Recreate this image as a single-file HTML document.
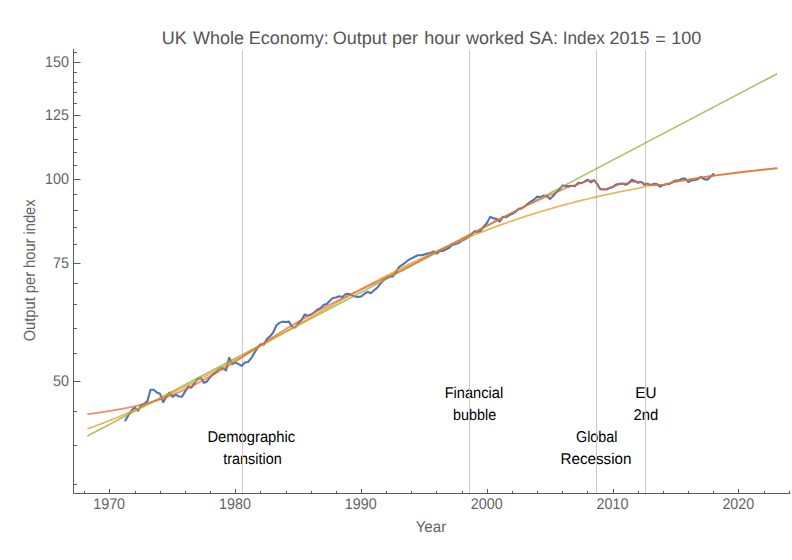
<!DOCTYPE html><html><head><meta charset="utf-8"><style>html,body{margin:0;padding:0;background:#fff;width:792px;height:560px;overflow:hidden}svg{display:block}svg text{font-family:"Liberation Sans",sans-serif}</style></head><body><svg width="792" height="560" viewBox="0 0 792 560" text-rendering="geometricPrecision">
<rect width="792" height="560" fill="#fff"/>
<text transform="translate(207.48,442) scale(0.9822,1.0400)"  font-size="15" fill="#000" >Demographic</text>
<text transform="translate(223.18,464) scale(0.9621,1.0400)"  font-size="15" fill="#000" >transition</text>
<text transform="translate(444.69,398) scale(0.9743,1.0400)"  font-size="15" fill="#000" >Financial</text>
<text transform="translate(453.07,420) scale(0.9580,1.0400)"  font-size="15" fill="#000" >bubble</text>
<text transform="translate(575.98,442) scale(0.9570,1.0400)"  font-size="15" fill="#000" >Global</text>
<text transform="translate(560.44,464) scale(1.0147,1.0400)"  font-size="15" fill="#000" >Recession</text>
<text transform="translate(635.34,398) scale(1.0190,1.0400)"  font-size="15" fill="#000" >EU</text>
<text transform="translate(633.46,420) scale(0.9904,1.0400)"  font-size="15" fill="#000" >2nd</text>
<path d="M242.5,50 V493" stroke="#c0c0c0" stroke-width="1" stroke-opacity="0.85"/>
<path d="M469.5,50 V493" stroke="#c0c0c0" stroke-width="1" stroke-opacity="0.85"/>
<path d="M596.5,50 V493" stroke="#c0c0c0" stroke-width="1" stroke-opacity="0.85"/>
<path d="M645.5,50 V493" stroke="#c0c0c0" stroke-width="1" stroke-opacity="0.85"/>
<path d="M125.40,420.40 L128.55,415.00 L131.69,410.20 L134.84,407.50 L137.98,410.70 L141.12,405.40 L144.27,403.75 L147.42,401.10 L150.56,389.80 L153.71,389.80 L156.85,392.50 L160.00,393.80 L163.14,402.10 L166.28,397.30 L169.43,392.70 L172.57,396.80 L175.72,394.60 L178.87,396.50 L182.01,396.80 L185.16,391.40 L188.30,386.60 L191.44,387.70 L194.59,382.90 L197.74,378.80 L200.88,378.00 L204.03,382.90 L207.17,381.25 L210.31,377.00 L213.46,374.10 L216.61,371.60 L219.75,368.40 L222.90,368.10 L226.04,370.50 L229.19,357.70 L232.33,364.10 L235.48,362.50 L238.62,364.10 L241.76,365.90 L244.91,362.50 L248.06,362.00 L251.20,358.20 L254.34,352.90 L257.49,348.00 L260.63,344.30 L263.78,344.80 L266.93,338.90 L270.07,336.25 L273.22,332.50 L276.36,325.50 L279.50,322.90 L282.65,321.60 L285.80,322.00 L288.94,321.60 L292.09,327.00 L295.23,327.50 L298.38,323.20 L301.52,320.00 L304.67,314.60 L307.81,315.70 L310.96,314.60 L314.10,312.50 L317.25,309.80 L320.39,308.20 L323.53,305.00 L326.68,303.90 L329.83,300.70 L332.97,298.00 L336.12,297.50 L339.26,296.20 L342.40,297.00 L345.55,294.30 L348.69,293.75 L351.84,295.40 L354.99,296.40 L358.13,297.00 L361.27,296.40 L364.42,293.75 L367.56,291.80 L370.71,293.20 L373.86,290.50 L377.00,287.90 L380.14,284.10 L383.29,280.40 L386.44,278.20 L389.58,276.60 L392.73,276.60 L395.87,272.30 L399.01,267.00 L402.16,264.80 L405.31,262.70 L408.45,260.00 L411.60,258.40 L414.74,256.80 L417.88,255.20 L421.03,255.20 L424.17,254.60 L427.32,253.60 L430.47,253.00 L433.61,251.40 L436.75,253.60 L439.90,250.90 L443.04,250.90 L446.19,249.30 L449.34,247.70 L452.48,244.60 L455.62,244.10 L458.77,243.00 L461.91,240.40 L465.06,239.30 L468.21,237.10 L471.35,234.50 L474.50,231.25 L477.64,232.10 L480.78,230.70 L483.93,226.40 L487.08,222.70 L490.22,216.80 L493.37,218.40 L496.51,218.90 L499.65,221.60 L502.80,216.80 L505.95,217.30 L509.09,215.40 L512.24,213.75 L515.38,212.10 L518.52,208.90 L521.67,208.40 L524.82,206.25 L527.96,203.60 L531.11,201.40 L534.25,199.30 L537.39,196.60 L540.54,197.10 L543.69,195.50 L546.83,196.10 L549.98,199.10 L553.12,196.10 L556.26,192.30 L559.41,189.60 L562.56,185.40 L565.70,186.10 L568.85,186.10 L571.99,185.75 L575.13,186.10 L578.28,182.70 L581.42,183.10 L584.57,181.60 L587.72,179.70 L590.86,182.30 L594.00,180.10 L597.15,183.90 L600.29,189.20 L603.44,189.40 L606.59,189.50 L609.73,188.00 L612.88,186.90 L616.02,184.60 L619.16,183.90 L622.31,183.60 L625.46,184.80 L628.60,183.20 L631.75,179.80 L634.89,180.90 L638.03,182.80 L641.18,181.80 L644.32,184.70 L647.47,183.60 L650.62,185.10 L653.76,183.90 L656.90,184.10 L660.05,186.60 L663.19,185.10 L666.34,184.30 L669.49,183.90 L672.63,182.00 L675.77,180.45 L678.92,180.45 L682.06,178.60 L685.21,178.60 L688.36,182.00 L691.50,180.30 L694.64,180.10 L697.79,179.30 L700.93,176.80 L704.08,179.10 L707.23,179.80 L710.37,177.00 L713.51,174.00" stroke="#5075b2" stroke-width="2.1" fill="none" stroke-linejoin="round" stroke-linecap="round"/>
<path d="M87.4,436.0 L777.1,73.75" stroke="#8fb032" stroke-width="1.7" fill="none" stroke-opacity="0.75"/>
<path d="M87.40,428.98 L89.40,428.25 L91.40,427.52 L93.40,426.78 L95.40,426.03 L97.40,425.28 L99.40,424.53 L101.40,423.76 L103.40,422.99 L105.40,422.22 L107.40,421.44 L109.40,420.65 L111.40,419.86 L113.40,419.06 L115.40,418.25 L117.40,417.44 L119.40,416.63 L121.40,415.80 L123.40,414.97 L125.40,414.14 L127.40,413.30 L129.40,412.45 L131.40,411.60 L133.40,410.74 L135.40,409.87 L137.40,409.00 L139.40,408.13 L141.40,407.25 L143.40,406.36 L145.40,405.46 L147.40,404.57 L149.40,403.66 L151.40,402.75 L153.40,401.83 L155.40,400.91 L157.40,399.98 L159.40,399.05 L161.40,398.11 L163.40,397.17 L165.40,396.22 L167.40,395.27 L169.40,394.31 L171.40,393.34 L173.40,392.37 L175.40,391.40 L177.40,390.42 L179.40,389.43 L181.40,388.44 L183.40,387.45 L185.40,386.45 L187.40,385.44 L189.40,384.43 L191.40,383.42 L193.40,382.40 L195.40,381.38 L197.40,380.35 L199.40,379.32 L201.40,378.28 L203.40,377.24 L205.40,376.19 L207.40,375.15 L209.40,374.09 L211.40,373.03 L213.40,371.97 L215.40,370.91 L217.40,369.84 L219.40,368.77 L221.40,367.69 L223.40,366.61 L225.40,365.53 L227.40,364.44 L229.40,363.35 L231.40,362.26 L233.40,361.16 L235.40,360.06 L237.40,358.96 L239.40,357.86 L241.40,356.75 L243.40,355.64 L245.40,354.53 L247.40,353.41 L249.40,352.29 L251.40,351.17 L253.40,350.05 L255.40,348.93 L257.40,347.80 L259.40,346.67 L261.40,345.54 L263.40,344.41 L265.40,343.28 L267.40,342.14 L269.40,341.01 L271.40,339.87 L273.40,338.73 L275.40,337.59 L277.40,336.45 L279.40,335.31 L281.40,334.17 L283.40,333.03 L285.40,331.88 L287.40,330.74 L289.40,329.60 L291.40,328.45 L293.40,327.31 L295.40,326.16 L297.40,325.02 L299.40,323.87 L301.40,322.73 L303.40,321.59 L305.40,320.44 L307.40,319.30 L309.40,318.16 L311.40,317.02 L313.40,315.88 L315.40,314.74 L317.40,313.60 L319.40,312.47 L321.40,311.33 L323.40,310.20 L325.40,309.06 L327.40,307.93 L329.40,306.80 L331.40,305.68 L333.40,304.55 L335.40,303.43 L337.40,302.31 L339.40,301.19 L341.40,300.07 L343.40,298.96 L345.40,297.84 L347.40,296.73 L349.40,295.63 L351.40,294.52 L353.40,293.42 L355.40,292.32 L357.40,291.23 L359.40,290.14 L361.40,289.05 L363.40,287.96 L365.40,286.88 L367.40,285.80 L369.40,284.73 L371.40,283.66 L373.40,282.59 L375.40,281.53 L377.40,280.47 L379.40,279.41 L381.40,278.36 L383.40,277.31 L385.40,276.27 L387.40,275.23 L389.40,274.19 L391.40,273.16 L393.40,272.14 L395.40,271.11 L397.40,270.10 L399.40,269.08 L401.40,268.08 L403.40,267.07 L405.40,266.07 L407.40,265.08 L409.40,264.09 L411.40,263.11 L413.40,262.13 L415.40,261.16 L417.40,260.19 L419.40,259.23 L421.40,258.27 L423.40,257.32 L425.40,256.37 L427.40,255.43 L429.40,254.49 L431.40,253.56 L433.40,252.64 L435.40,251.72 L437.40,250.80 L439.40,249.89 L441.40,248.99 L443.40,248.09 L445.40,247.20 L447.40,246.32 L449.40,245.44 L451.40,244.56 L453.40,243.69 L455.40,242.83 L457.40,241.97 L459.40,241.12 L461.40,240.28 L463.40,239.44 L465.40,238.61 L467.40,237.78 L469.40,236.96 L471.40,236.14 L473.40,235.33 L475.40,234.53 L477.40,233.73 L479.40,232.94 L481.40,232.16 L483.40,231.38 L485.40,230.61 L487.40,229.84 L489.40,229.08 L491.40,228.32 L493.40,227.57 L495.40,226.83 L497.40,226.09 L499.40,225.36 L501.40,224.64 L503.40,223.92 L505.40,223.21 L507.40,222.50 L509.40,221.80 L511.40,221.11 L513.40,220.42 L515.40,219.73 L517.40,219.06 L519.40,218.39 L521.40,217.72 L523.40,217.06 L525.40,216.41 L527.40,215.76 L529.40,215.12 L531.40,214.49 L533.40,213.86 L535.40,213.23 L537.40,212.62 L539.40,212.00 L541.40,211.40 L543.40,210.80 L545.40,210.20 L547.40,209.61 L549.40,209.03 L551.40,208.45 L553.40,207.88 L555.40,207.31 L557.40,206.75 L559.40,206.19 L561.40,205.64 L563.40,205.10 L565.40,204.56 L567.40,204.03 L569.40,203.50 L571.40,202.97 L573.40,202.46 L575.40,201.94 L577.40,201.44 L579.40,200.93 L581.40,200.44 L583.40,199.94 L585.40,199.46 L587.40,198.98 L589.40,198.50 L591.40,198.03 L593.40,197.56 L595.40,197.10 L597.40,196.64 L599.40,196.19 L601.40,195.75 L603.40,195.30 L605.40,194.87 L607.40,194.43 L609.40,194.01 L611.40,193.58 L613.40,193.16 L615.40,192.75 L617.40,192.34 L619.40,191.94 L621.40,191.54 L623.40,191.14 L625.40,190.75 L627.40,190.36 L629.40,189.98 L631.40,189.60 L633.40,189.23 L635.40,188.86 L637.40,188.49 L639.40,188.13 L641.40,187.47 L643.40,186.83 L645.40,186.33 L647.40,185.96 L649.40,185.70 L651.40,185.50 L653.40,185.28 L655.40,185.11 L657.40,185.00 L659.40,184.94 L661.40,184.92 L663.40,184.80 L665.40,184.49 L667.40,183.98 L669.40,183.38 L671.40,182.76 L673.40,182.18 L675.40,181.70 L677.40,181.33 L679.40,181.00 L681.40,180.69 L683.40,180.39 L685.40,180.10 L687.40,179.81 L689.40,179.50 L691.40,179.17 L693.40,178.82 L695.40,178.48 L697.40,178.14 L699.40,177.83 L701.40,177.52 L703.40,177.22 L705.40,176.93 L707.40,176.63 L709.40,176.34 L711.40,176.06 L713.40,175.78 L715.40,175.50 L717.40,175.23 L719.40,174.96 L721.40,174.70 L723.40,174.43 L725.40,174.17 L727.40,173.92 L729.40,173.66 L731.40,173.41 L733.40,173.16 L735.40,172.91 L737.40,172.67 L739.40,172.42 L741.40,172.18 L743.40,171.94 L745.40,171.70 L747.40,171.46 L749.40,171.23 L751.40,171.00 L753.40,170.77 L755.40,170.54 L757.40,170.32 L759.40,170.09 L761.40,169.87 L763.40,169.65 L765.40,169.44 L767.40,169.23 L769.40,169.02 L771.40,168.81 L773.40,168.61 L775.40,168.41 L777.40,168.21" stroke="#e09c24" stroke-width="1.7" fill="none" stroke-opacity="0.75"/>
<path d="M87.40,414.22 L88.40,414.08 L89.40,413.94 L90.40,413.81 L91.40,413.67 L92.40,413.53 L93.40,413.39 L94.40,413.25 L95.40,413.11 L96.40,412.97 L97.40,412.82 L98.40,412.68 L99.40,412.54 L100.40,412.39 L101.40,412.24 L102.40,412.09 L103.40,411.94 L104.40,411.79 L105.40,411.64 L106.40,411.48 L107.40,411.33 L108.40,411.17 L109.40,411.01 L110.40,410.84 L111.40,410.68 L112.40,410.52 L113.40,410.35 L114.40,410.18 L115.40,410.01 L116.40,409.83 L117.40,409.66 L118.40,409.48 L119.40,409.30 L120.40,409.12 L121.40,408.93 L122.40,408.75 L123.40,408.56 L124.40,408.37 L125.40,408.17 L126.40,407.98 L127.40,407.78 L128.40,407.58 L129.40,407.37 L130.40,407.17 L131.40,406.96 L132.40,406.75 L133.40,406.53 L134.40,406.31 L135.40,406.09 L136.40,405.87 L137.40,405.64 L138.40,405.41 L139.40,405.17 L140.40,404.93 L141.40,404.69 L142.40,404.45 L143.40,404.20 L144.40,403.94 L145.40,403.69 L146.40,403.42 L147.40,403.16 L148.40,402.89 L149.40,402.61 L150.40,402.33 L151.40,402.05 L152.40,401.76 L153.40,401.47 L154.40,401.17 L155.40,400.87 L156.40,400.56 L157.40,400.25 L158.40,399.93 L159.40,399.61 L160.40,399.28 L161.40,398.95 L162.40,398.61 L163.40,398.27 L164.40,397.92 L165.40,397.57 L166.40,397.21 L167.40,396.84 L168.40,396.47 L169.40,396.10 L170.40,395.72 L171.40,395.33 L172.40,394.94 L173.40,394.54 L174.40,394.14 L175.40,393.73 L176.40,393.31 L177.40,392.89 L178.40,392.47 L179.40,392.03 L180.40,391.60 L181.40,391.15 L182.40,390.71 L183.40,390.25 L184.40,389.79 L185.40,389.32 L186.40,388.85 L187.40,388.37 L188.40,387.89 L189.40,387.40 L190.40,386.91 L191.40,386.41 L192.40,385.90 L193.40,385.39 L194.40,384.88 L195.40,384.36 L196.40,383.84 L197.40,383.31 L198.40,382.78 L199.40,382.25 L200.40,381.71 L201.40,381.17 L202.40,380.63 L203.40,380.08 L204.40,379.53 L205.40,378.98 L206.40,378.42 L207.40,377.87 L208.40,377.31 L209.40,376.75 L210.40,376.18 L211.40,375.62 L212.40,375.05 L213.40,374.48 L214.40,373.92 L215.40,373.35 L216.40,372.78 L217.40,372.21 L218.40,371.64 L219.40,371.07 L220.40,370.50 L221.40,369.93 L222.40,369.35 L223.40,368.78 L224.40,368.20 L225.40,367.61 L226.40,367.03 L227.40,366.44 L228.40,365.85 L229.40,365.26 L230.40,364.66 L231.40,364.06 L232.40,363.45 L233.40,362.84 L234.40,362.23 L235.40,361.61 L236.40,360.99 L237.40,360.36 L238.40,359.73 L239.40,359.10 L240.40,358.46 L241.40,357.82 L242.40,357.17 L243.40,356.53 L244.40,355.88 L245.40,355.22 L246.40,354.57 L247.40,353.91 L248.40,353.25 L249.40,352.59 L250.40,351.93 L251.40,351.26 L252.40,350.60 L253.40,349.94 L254.40,349.27 L255.40,348.60 L256.40,347.94 L257.40,347.27 L258.40,346.61 L259.40,345.94 L260.40,345.28 L261.40,344.61 L262.40,343.95 L263.40,343.29 L264.40,342.63 L265.40,341.98 L266.40,341.32 L267.40,340.67 L268.40,340.02 L269.40,339.38 L270.40,338.73 L271.40,338.09 L272.40,337.45 L273.40,336.81 L274.40,336.17 L275.40,335.54 L276.40,334.91 L277.40,334.28 L278.40,333.65 L279.40,333.03 L280.40,332.41 L281.40,331.79 L282.40,331.17 L283.40,330.56 L284.40,329.94 L285.40,329.33 L286.40,328.72 L287.40,328.12 L288.40,327.51 L289.40,326.91 L290.40,326.31 L291.40,325.72 L292.40,325.12 L293.40,324.53 L294.40,323.94 L295.40,323.35 L296.40,322.77 L297.40,322.18 L298.40,321.60 L299.40,321.02 L300.40,320.45 L301.40,319.87 L302.40,319.30 L303.40,318.73 L304.40,318.17 L305.40,317.60 L306.40,317.04 L307.40,316.48 L308.40,315.93 L309.40,315.37 L310.40,314.82 L311.40,314.27 L312.40,313.72 L313.40,313.18 L314.40,312.63 L315.40,312.09 L316.40,311.56 L317.40,311.02 L318.40,310.49 L319.40,309.96 L320.40,309.43 L321.40,308.91 L322.40,308.39 L323.40,307.87 L324.40,307.35 L325.40,306.83 L326.40,306.32 L327.40,305.81 L328.40,305.31 L329.40,304.80 L330.40,304.30 L331.40,303.80 L332.40,303.30 L333.40,302.80 L334.40,302.31 L335.40,301.81 L336.40,301.32 L337.40,300.83 L338.40,300.34 L339.40,299.86 L340.40,299.37 L341.40,298.89 L342.40,298.40 L343.40,297.92 L344.40,297.44 L345.40,296.95 L346.40,296.47 L347.40,295.99 L348.40,295.51 L349.40,295.03 L350.40,294.55 L351.40,294.07 L352.40,293.60 L353.40,293.12 L354.40,292.64 L355.40,292.16 L356.40,291.69 L357.40,291.21 L358.40,290.73 L359.40,290.26 L360.40,289.78 L361.40,289.31 L362.40,288.83 L363.40,288.35 L364.40,287.88 L365.40,287.40 L366.40,286.93 L367.40,286.45 L368.40,285.98 L369.40,285.50 L370.40,285.03 L371.40,284.55 L372.40,284.08 L373.40,283.60 L374.40,283.13 L375.40,282.65 L376.40,282.18 L377.40,281.70 L378.40,281.22 L379.40,280.75 L380.40,280.27 L381.40,279.79 L382.40,279.32 L383.40,278.84 L384.40,278.36 L385.40,277.88 L386.40,277.41 L387.40,276.93 L388.40,276.45 L389.40,275.97 L390.40,275.49 L391.40,275.00 L392.40,274.52 L393.40,274.04 L394.40,273.55 L395.40,273.07 L396.40,272.58 L397.40,272.09 L398.40,271.60 L399.40,271.11 L400.40,270.62 L401.40,270.12 L402.40,269.63 L403.40,269.13 L404.40,268.63 L405.40,268.13 L406.40,267.62 L407.40,267.12 L408.40,266.61 L409.40,266.10 L410.40,265.59 L411.40,265.07 L412.40,264.56 L413.40,264.04 L414.40,263.52 L415.40,263.00 L416.40,262.48 L417.40,261.96 L418.40,261.44 L419.40,260.91 L420.40,260.39 L421.40,259.86 L422.40,259.33 L423.40,258.81 L424.40,258.28 L425.40,257.75 L426.40,257.23 L427.40,256.70 L428.40,256.17 L429.40,255.64 L430.40,255.12 L431.40,254.59 L432.40,254.06 L433.40,253.54 L434.40,253.01 L435.40,252.49 L436.40,251.96 L437.40,251.44 L438.40,250.92 L439.40,250.40 L440.40,249.88 L441.40,249.36 L442.40,248.84 L443.40,248.32 L444.40,247.80 L445.40,247.28 L446.40,246.76 L447.40,246.24 L448.40,245.72 L449.40,245.20 L450.40,244.68 L451.40,244.16 L452.40,243.64 L453.40,243.12 L454.40,242.60 L455.40,242.08 L456.40,241.56 L457.40,241.03 L458.40,240.51 L459.40,239.98 L460.40,239.46 L461.40,238.93 L462.40,238.40 L463.40,237.87 L464.40,237.35 L465.40,236.82 L466.40,236.29 L467.40,235.76 L468.40,235.23 L469.40,234.71 L470.40,234.18 L471.40,233.65 L472.40,233.12 L473.40,232.59 L474.40,232.07 L475.40,231.54 L476.40,231.02 L477.40,230.49 L478.40,229.97 L479.40,229.44 L480.40,228.92 L481.40,228.39 L482.40,227.87 L483.40,227.35 L484.40,226.83 L485.40,226.31 L486.40,225.79 L487.40,225.27 L488.40,224.75 L489.40,224.23 L490.40,223.71 L491.40,223.20 L492.40,222.68 L493.40,222.16 L494.40,221.65 L495.40,221.13 L496.40,220.62 L497.40,220.11 L498.40,219.59 L499.40,219.08 L500.40,218.57 L501.40,218.06 L502.40,217.55 L503.40,217.04 L504.40,216.53 L505.40,216.03 L506.40,215.52 L507.40,215.01 L508.40,214.51 L509.40,214.01 L510.40,213.51 L511.40,213.01 L512.40,212.51 L513.40,212.01 L514.40,211.52 L515.40,211.02 L516.40,210.53 L517.40,210.04 L518.40,209.55 L519.40,209.07 L520.40,208.58 L521.40,208.10 L522.40,207.62 L523.40,207.14 L524.40,206.66 L525.40,206.19 L526.40,205.72 L527.40,205.25 L528.40,204.78 L529.40,204.31 L530.40,203.85 L531.40,203.39 L532.40,202.93 L533.40,202.47 L534.40,202.01 L535.40,201.55 L536.40,201.10 L537.40,200.64 L538.40,200.19 L539.40,199.74 L540.40,199.28 L541.40,198.83 L542.40,198.38 L543.40,197.93 L544.40,197.48 L545.40,197.03 L546.40,196.58 L547.40,196.14 L548.40,195.69 L549.40,195.25 L550.40,194.82 L551.40,194.38 L552.40,193.95 L553.40,193.52 L554.40,193.09 L555.40,192.66 L556.40,192.23 L557.40,191.77 L558.40,191.32 L559.40,190.87 L560.40,190.42 L561.40,189.96 L562.40,189.49 L563.40,189.03 L564.40,188.58 L565.40,188.15 L566.40,187.76 L567.40,187.40 L568.40,187.08 L569.40,186.78 L570.40,186.50 L571.40,186.23 L572.40,185.96 L573.40,185.68 L574.40,185.37 L575.40,185.04 L576.40,184.68 L577.40,184.32 L578.40,183.96 L579.40,183.59 L580.40,183.24 L581.40,182.90 L582.40,182.55 L583.40,182.18 L584.40,181.81 L585.40,181.45 L586.40,181.14 L587.40,180.89 L588.40,180.72 L589.40,180.62 L590.40,180.54 L591.40,180.47 L592.40,180.42 L593.40,180.40 L594.40,180.71 L595.40,181.71 L596.40,182.90 L597.40,184.45 L598.40,186.38 L599.40,187.94 L600.40,188.53 L601.40,188.82 L602.40,189.04 L603.40,189.17 L604.40,189.20 L605.40,189.10 L606.40,188.88 L607.40,188.57 L608.40,188.22 L609.40,187.84 L610.40,187.49 L611.40,187.18 L612.40,186.85 L613.40,186.50 L614.40,186.13 L615.40,185.75 L616.40,185.38 L617.40,185.02 L618.40,184.69 L619.40,184.39 L620.40,184.13 L621.40,183.93 L622.40,183.79 L623.40,183.68 L624.40,183.59 L625.40,183.48 L626.40,183.33 L627.40,183.09 L628.40,182.78 L629.40,182.47 L630.40,182.18 L631.40,181.98 L632.40,181.90 L633.40,181.90 L634.40,181.90 L635.40,181.90 L636.40,181.90 L637.40,181.90 L638.40,181.90 L639.40,181.96 L640.40,182.13 L641.40,182.39 L642.40,182.70 L643.40,183.04 L644.40,183.37 L645.40,183.66 L646.40,183.89 L647.40,184.12 L648.40,184.35 L649.40,184.57 L650.40,184.74 L651.40,184.84 L652.40,184.87 L653.40,184.90 L654.40,184.92 L655.40,184.94 L656.40,184.96 L657.40,184.98 L658.40,184.99 L659.40,184.99 L660.40,185.00 L661.40,185.00 L662.40,184.95 L663.40,184.85 L664.40,184.69 L665.40,184.49 L666.40,184.25 L667.40,183.98 L668.40,183.69 L669.40,183.38 L670.40,183.07 L671.40,182.76 L672.40,182.46 L673.40,182.18 L674.40,181.92 L675.40,181.70 L676.40,181.51 L677.40,181.33 L678.40,181.16 L679.40,181.00 L680.40,180.84 L681.40,180.69 L682.40,180.54 L683.40,180.39 L684.40,180.25 L685.40,180.10 L686.40,179.95 L687.40,179.81 L688.40,179.65 L689.40,179.50 L690.40,179.33 L691.40,179.17 L692.40,179.00 L693.40,178.82 L694.40,178.65 L695.40,178.48 L696.40,178.31 L697.40,178.14 L698.40,177.98 L699.40,177.83 L700.40,177.68 L701.40,177.52 L702.40,177.37 L703.40,177.22 L704.40,177.07 L705.40,176.93 L706.40,176.78 L707.40,176.63 L708.40,176.49 L709.40,176.34 L710.40,176.20 L711.40,176.06 L712.40,175.92 L713.40,175.78 L714.40,175.64 L715.40,175.50 L716.40,175.37 L717.40,175.23 L718.40,175.10 L719.40,174.96 L720.40,174.83 L721.40,174.70 L722.40,174.56 L723.40,174.43 L724.40,174.30 L725.40,174.17 L726.40,174.04 L727.40,173.92 L728.40,173.79 L729.40,173.66 L730.40,173.54 L731.40,173.41 L732.40,173.29 L733.40,173.16 L734.40,173.04 L735.40,172.91 L736.40,172.79 L737.40,172.67 L738.40,172.55 L739.40,172.42 L740.40,172.30 L741.40,172.18 L742.40,172.06 L743.40,171.94 L744.40,171.82 L745.40,171.70 L746.40,171.58 L747.40,171.46 L748.40,171.35 L749.40,171.23 L750.40,171.11 L751.40,171.00 L752.40,170.88 L753.40,170.77 L754.40,170.65 L755.40,170.54 L756.40,170.43 L757.40,170.32 L758.40,170.20 L759.40,170.09 L760.40,169.98 L761.40,169.87 L762.40,169.76 L763.40,169.65 L764.40,169.55 L765.40,169.44 L766.40,169.33 L767.40,169.23 L768.40,169.12 L769.40,169.02 L770.40,168.91 L771.40,168.81 L772.40,168.71 L773.40,168.61 L774.40,168.51 L775.40,168.41 L776.40,168.31 L777.40,168.21" stroke="#eb6235" stroke-width="1.8" fill="none" stroke-opacity="0.72"/>
<path d="M73.5,49 V493.5 M73,493.5 H790.5" stroke="#5a5a5a" stroke-width="1" fill="none"/>
<path d="M73,62.5 H80.5 M73,115.5 H80.5 M73,179.5 H80.5 M73,263.5 H80.5 M73,381.5 H80.5 M73,52.5 H76.9 M73,72.5 H76.9 M73,82.5 H76.9 M73,92.5 H76.9 M73,103.5 H76.9 M73,127.5 H76.9 M73,139.5 H77.8 M73,152.5 H76.9 M73,165.5 H76.9 M73,194.5 H76.9 M73,210.5 H77.8 M73,227.5 H76.9 M73,244.5 H76.9 M73,283.5 H77.8 M73,304.5 H76.9 M73,328.5 H76.9 M73,353.5 H76.9 M73,411.5 H76.9 M73,445.5 H76.9 M73,484.5 H76.9 M109.5,493 V489 M235.5,493 V489 M361.5,493 V489 M487.5,493 V489 M613.5,493 V489 M738.5,493 V489 M84.5,493 V490.8 M135.5,493 V490.8 M160.5,493 V490.8 M185.5,493 V490.8 M210.5,493 V490.8 M260.5,493 V490.8 M286.5,493 V490.8 M311.5,493 V490.8 M336.5,493 V490.8 M386.5,493 V490.8 M411.5,493 V490.8 M436.5,493 V490.8 M462.5,493 V490.8 M512.5,493 V490.8 M537.5,493 V490.8 M562.5,493 V490.8 M587.5,493 V490.8 M638.5,493 V490.8 M663.5,493 V490.8 M688.5,493 V490.8 M713.5,493 V490.8 M764.5,493 V490.8 M789.5,493 V490.8 " stroke="#5a5a5a" stroke-width="1" fill="none"/>
<text transform="translate(161.66,43.65)"  font-size="18" fill="#555555">UK</text>
<text transform="translate(192.96,43.65)"  font-size="18" fill="#555555">Whole</text>
<text transform="translate(248.79,43.65)"  font-size="18" fill="#555555">Economy:</text>
<text transform="translate(332.72,43.65)"  font-size="18" fill="#555555">Output</text>
<text transform="translate(391.96,43.65)"  font-size="18" fill="#555555">per</text>
<text transform="translate(424.28,43.65)"  font-size="18" fill="#555555">hour</text>
<text transform="translate(466.01,43.65)"  font-size="18" fill="#555555">worked</text>
<text transform="translate(529.03,43.65)"  font-size="18" fill="#555555">SA:</text>
<text transform="translate(562.76,43.65) scale(0.954,1)"  font-size="18" fill="#555555">Index</text>
<text transform="translate(609.58,43.65)"  font-size="18" fill="#555555">2015</text>
<text transform="translate(655.13,45.0)"  font-size="18" fill="#555555">=</text>
<text transform="translate(671.24,43.65)"  font-size="18" fill="#555555">100</text>
<text transform="translate(45.05,67.0) scale(0.9550,1.0300)"  font-size="15" fill="#636363" >150</text>
<text transform="translate(45.09,120.0) scale(0.9550,1.0300)"  font-size="15" fill="#636363" >125</text>
<text transform="translate(45.05,184.0) scale(0.9550,1.0300)"  font-size="15" fill="#636363" >100</text>
<text transform="translate(53.07,268.0) scale(0.9550,1.0300)"  font-size="15" fill="#636363" >75</text>
<text transform="translate(53.04,386.0) scale(0.9550,1.0300)"  font-size="15" fill="#636363" >50</text>
<text transform="translate(93.21,509) scale(0.9550,1.0300)"  font-size="15" fill="#636363" >1970</text>
<text transform="translate(219.01,509) scale(0.9550,1.0300)"  font-size="15" fill="#636363" >1980</text>
<text transform="translate(344.81,509) scale(0.9550,1.0300)"  font-size="15" fill="#636363" >1990</text>
<text transform="translate(470.79,509) scale(0.9550,1.0300)"  font-size="15" fill="#636363" >2000</text>
<text transform="translate(596.59,509) scale(0.9550,1.0300)"  font-size="15" fill="#636363" >2010</text>
<text transform="translate(722.39,509) scale(0.9550,1.0300)"  font-size="15" fill="#636363" >2020</text>
<text transform="translate(415.66,532) scale(1.0088,1.0500)"  font-size="15" fill="#636363" >Year</text>
<text transform="translate(34.7,341.30) rotate(-90) scale(0.9779,1.07)"  font-size="15" fill="#636363">Output per hour index</text>
</svg></body></html>
